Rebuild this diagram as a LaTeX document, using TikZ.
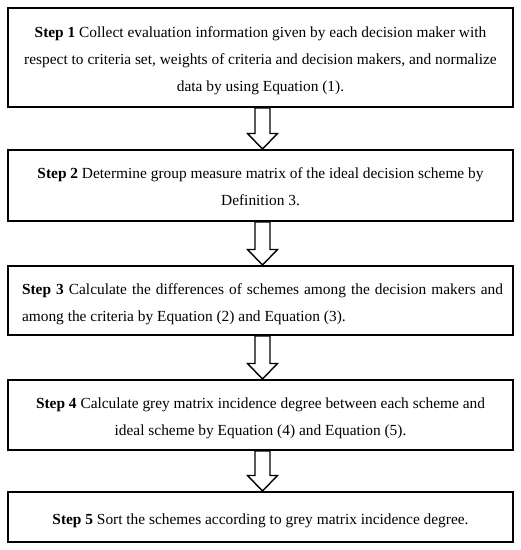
\documentclass[tikz,border=0pt]{standalone}
\usepackage{fontspec}
\setmainfont{Liberation Serif}
\begin{document}
\begin{tikzpicture}[x=1pt,y=1pt]
\useasboundingbox (0,0) rectangle (521,550);
\tikzset{
  stepbox/.style={draw, line width=2pt, minimum width=504.5pt, inner sep=0pt},
  steptext/.style={font=\fontsize{15.4}{27.2}\selectfont, align=center, inner sep=0pt},
  flow/.style={draw, line width=1.4pt, line join=miter}
}
% boxes
\node[stepbox, minimum height=99pt] (s1) at (260.5,492.5) {};
\node[stepbox, minimum height=71pt] (s2) at (260.5,364.5) {};
\node[stepbox, minimum height=69pt] (s3) at (260.5,249.5) {};
\node[stepbox, minimum height=70pt] (s4) at (260.5,135) {};
\node[stepbox, minimum height=50pt] (s5) at (260.5,33) {};
% texts
\node[steptext] (t1) at (260.5,489)
  {\textbf{Step 1} Collect evaluation information given by each decision maker with\\
   respect to criteria set, weights of criteria and decision makers, and normalize\\
   data by using Equation (1).};
\node[steptext] (t2) at (260.5,363.5)
  {\textbf{Step 2} Determine group measure matrix of the ideal decision scheme by\\
   Definition 3.};
\node[steptext, align=justify, text width=481pt] (t3) at (262.5,245.5)
  {\textbf{Step 3} Calculate the differences of schemes among the decision makers and\linebreak
   among the criteria by Equation (2) and Equation (3).};
\node[steptext] (t4) at (260.5,132)
  {\textbf{Step 4} Calculate grey matrix incidence degree between each scheme and\\
   ideal scheme by Equation (4) and Equation (5).};
\node[steptext] (t5) at (260.5,29)
  {\textbf{Step 5} Sort the schemes according to grey matrix incidence degree.};
% arrows
\foreach \a/\b in {s1/s2, s2/s3, s3/s4, s4/s5}{
  \draw[flow] ([xshift=-5.5pt]\a.south) -- ([xshift=-5.5pt,yshift=15.5pt]\b.north)
    -- ([xshift=-13pt,yshift=15.5pt]\b.north) -- ([xshift=2pt]\b.north)
    -- ([xshift=17pt,yshift=15.5pt]\b.north) -- ([xshift=9.5pt,yshift=15.5pt]\b.north)
    -- ([xshift=9.5pt]\a.south) -- cycle;
}
\end{tikzpicture}
\end{document}
